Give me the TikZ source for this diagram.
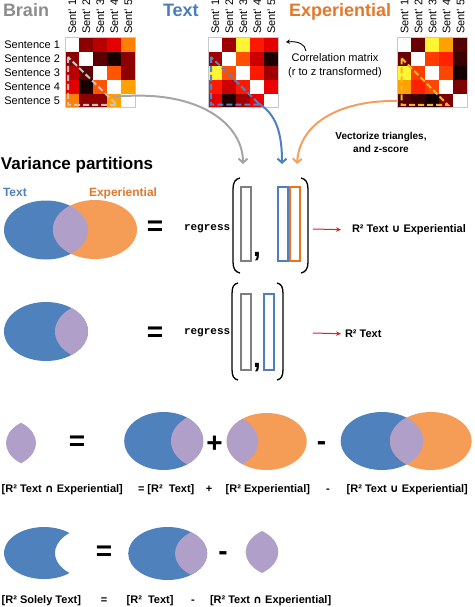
\documentclass[tikz,border=0pt]{standalone}
\usepackage{fontspec}
\setmainfont{Liberation Sans}
\newfontfamily\monof{Liberation Mono}
\newfontfamily\symf{DejaVu Sans}
\usetikzlibrary{arrows.meta}
\definecolor{cblue}{HTML}{4F81BD}
\definecolor{corange}{HTML}{F59D56}
\definecolor{cpurple}{HTML}{B09FC8}
\definecolor{tgray}{HTML}{8C8C8C}
\definecolor{tblue}{HTML}{4A7EBB}
\definecolor{torange}{HTML}{E3782B}
\definecolor{agray}{HTML}{A6A6A6}
\definecolor{ablue}{HTML}{4F81BD}
\definecolor{aorange}{HTML}{F0A060}
\definecolor{dgray}{HTML}{C4C4C4}
\definecolor{dblue}{HTML}{5B80C4}
\definecolor{dyellow}{HTML}{F5B52A}
\definecolor{vgray}{HTML}{7F7F7F}
\definecolor{vblue}{HTML}{4F7CC4}
\definecolor{vorange}{HTML}{E8761E}
\definecolor{mline}{HTML}{C8C8C8}
\definecolor{rline}{HTML}{E81C1C}
\newcommand\fs[1]{\fontsize{#1}{#1}\selectfont}
\newcommand\hotmatrix[3]{%
  \begin{scope}[shift={(#1,#2)}]
    \fill[white] (0,0) rectangle (70,70);
    \foreach \rr/\cc/\kk in {#3} {
      \fill[\kk] ({(\cc-1)*14},{(\rr-1)*14}) rectangle ++(14,14);
      \fill[\kk] ({(\rr-1)*14},{(\cc-1)*14}) rectangle ++(14,14);
    }
    \draw[mline, line width=0.7pt] (0,0) rectangle (70,70);
  \end{scope}}
\begin{document}
\begin{tikzpicture}[x=1pt,y=-1pt,
  every node/.style={inner sep=0pt, outer sep=0pt},
  ttl/.style={font=\fs{18}\bfseries, anchor=base west},
  lab/.style={font=\fs{11}\bfseries, anchor=base west},
  op/.style={font=\fs{28}\bfseries},
  rg/.style={font=\fs{11}\monof\bfseries, anchor=west},
  paren/.style={line width=1.3pt, black},
  vec/.style={line width=2pt},
  flow/.style={line width=2pt, -{Straight Barb[length=4pt,width=9pt]}},
  tri/.style={line width=2pt, dash pattern=on 6pt off 3pt},
  redarr/.style={rline, line width=1pt, -{Stealth[length=5pt,width=4.5pt]}},
  e1/.style={x radius=42, y radius=29.5},
  e3/.style={x radius=40, y radius=28.5},
  e4/.style={x radius=39.5, y radius=26.5},
  el/.style={x radius=40, y radius=26}
]
\useasboundingbox (0,0) rectangle (474,607);

% titles
\node[ttl, text=tgray] (tbrain) at (3,17) {Brain};
\node[ttl, text=tblue] (ttext) at (163,17) {Text};
\node[ttl, text=torange] (texp) at (289,17) {Experiential};

% matrices
\hotmatrix{65}{37.7}{1/2/red!55!black, 1/3/red!72!black, 1/4/red!90!black, 1/5/red!50!yellow, 2/3/red!35!black, 2/4/red!10!black, 2/5/red!56!black, 3/4/red!67!yellow, 3/5/red!56!black, 4/5/red!37!yellow}
\hotmatrix{208}{37.7}{1/2/red!63!black, 1/3/yellow!80!white, 1/4/red!90!yellow, 1/5/red!90!black, 2/3/red!69!yellow, 2/4/red!80!black, 2/5/red!12!black, 3/4/red!90!yellow, 3/5/red!63!black, 4/5/red!93!black}
\hotmatrix{397.3}{37.7}{1/2/red!42!black, 1/3/yellow!80!white, 1/4/red!37!yellow, 1/5/red!32!black, 2/3/red!77!yellow, 2/4/red!87!yellow, 2/5/red!23!black, 3/4/red!73!yellow, 3/5/red!8!black, 4/5/red!50!black}

\foreach \x/\nm in {65/b,208/t,397.3/e} {
  \foreach \c in {1,...,5} {
    \node[font=\fs{11}, rotate=90, anchor=base west] (s\nm\c) at ({\x+(\c-1)*14+11},34) {Sent' \c};
  }
}
\foreach \r in {1,...,5} {
  \node[font=\fs{11}, anchor=base east] (row\r) at (60,{48.7+(\r-1)*14}) {Sentence \r};
}

% dashed triangles
\draw[tri, dgray] (68,57) -- (68,105) -- (117,105) -- cycle;
\draw[tri, dblue] (211,57) -- (211,104.7) -- (260,104.7) -- cycle;
\draw[tri, dyellow] (401.7,58.3) -- (401.7,105) -- (448,105) -- cycle;

% correlation note
\node[font=\fs{11}, anchor=base] (corr1) at (335,62) {Correlation matrix};
\node[font=\fs{11}, anchor=base] (corr2) at (335,76) {(r to z transformed)};
\coordinate (cs) at (306,51);
\coordinate (ce) at (286,42);
\draw[line width=0.9pt, -{Stealth[length=4pt,width=4.5pt]}] (cs) .. controls (305,44) and (298,41) .. (ce);

% flow arrows
\coordinate (gs) at (113,97); \coordinate (ge) at (243,164);
\draw[flow, agray] (gs) .. controls (200,88) and (243,125) .. (ge);
\coordinate (bs) at (258,103); \coordinate (be) at (282,164);
\draw[flow, ablue] (bs) .. controls (272,112) and (282,125) .. (be);
\coordinate (os) at (397,101); \coordinate (oe) at (297,164);
\draw[flow, aorange] (os) .. controls (345,100) and (300,120) .. (oe);

\node[font=\fs{10}\bfseries, anchor=base] (vec1) at (381,139.5) {Vectorize triangles,};
\node[font=\fs{10}\bfseries, anchor=base] (vec2) at (381,152) {and z-score};

% section title
\node[font=\fs{17}\bfseries, anchor=base west] (vp) at (1,169) {Variance partitions};
\node[font=\fs{12}\bfseries, anchor=base west, text=cblue] (vt) at (3,196) {Text};
\node[font=\fs{12}\bfseries, anchor=base west, text=torange] (ve) at (89,196) {Experiential};

% Row 1 venn
\fill[cblue] (46,230) ellipse[e1];
\fill[corange] (95,229.5) ellipse[e1];
\begin{scope}
  \clip (46,230) ellipse[e1];
  \fill[cpurple] (95,229.5) ellipse[e1];
\end{scope}
% Row 2 venn
\fill[cblue] (46,331.5) ellipse[e1];
\begin{scope}
  \clip (46,331.5) ellipse[e1];
  \fill[cpurple] (97,331.5) ellipse[e1];
\end{scope}

% regress rows
\node[op] (eq1) at (155,228.5) {=};
\node[op] (eq2) at (155,334) {=};
\node[rg] (rg1) at (184,229) {regress};
\node[rg] (rg2) at (184,333) {regress};

\draw[paren] (240,178) .. controls (235.5,179) and (233,182) .. (233,189) -- (233,262) .. controls (233,269) and (235.5,272) .. (240,273);
\draw[paren] (301,178) .. controls (305.5,179) and (308,182) .. (308,189) -- (308,262) .. controls (308,269) and (305.5,272) .. (301,273);
\draw[paren] (238,283) .. controls (233.5,284) and (232,287) .. (232,294) -- (232,369) .. controls (232,376) and (233.5,379) .. (238,380);
\draw[paren] (277,283) .. controls (281.5,284) and (283,287) .. (283,294) -- (283,369) .. controls (283,376) and (281.5,379) .. (277,380);

\draw[vec, vgray] (241,187) rectangle (251,261);
\draw[vec, vblue] (278,187) rectangle (288,261);
\draw[vec, vorange] (290,187) rectangle (300,261);
\draw[vec, vgray] (241,294) rectangle (251,370);
\draw[vec, vblue] (264,294) rectangle (274,370);
\node[op, anchor=base] (cm1) at (257,256) {,};
\node[op, anchor=base] (cm2) at (257,367) {,};

\node[lab] (r1) at (352,232.5) {R² Text {\symf ∪} Experiential};
\node[lab] (r2) at (345,337.5) {R² Text};
\coordinate (ra1) at (313,229);
\coordinate (ra2) at (313,333);
\draw[redarr] (ra1) -- ([xshift=-11pt]r1.west);
\draw[redarr] (ra2) -- ([xshift=-4pt]r2.west);

% Row 3
\begin{scope}
  \clip (-4,443) ellipse[el];
  \fill[cpurple] (46,443) ellipse[el];
\end{scope}
\node[op] (eq3) at (77,443) {=};
\fill[cblue] (163.7,441) ellipse[x radius=39.5, y radius=29];
\begin{scope}
  \clip (163.7,441) ellipse[x radius=39.5, y radius=29];
  \fill[cpurple] (210.5,441) ellipse[x radius=39.5, y radius=29];
\end{scope}
\node[op] (pl3) at (214.5,444.5) {+};
\fill[corange] (266.7,441.5) ellipse[e3];
\begin{scope}
  \clip (266.7,441.5) ellipse[e3];
  \fill[cpurple] (218.3,441.5) ellipse[e3];
\end{scope}
\node[op] (mi3) at (321.5,446.5) {-};
\fill[cblue] (382,441) ellipse[x radius=41.3, y radius=29];
\fill[corange] (430.8,441) ellipse[x radius=40.8, y radius=29];
\begin{scope}
  \clip (382,441) ellipse[x radius=41.3, y radius=29];
  \fill[cpurple] (430.8,441) ellipse[x radius=40.8, y radius=29];
\end{scope}

\node[lab] (l31) at (1.7,492) {[R² Text {\symf ∩} Experiential]};
\node[lab] (l32) at (138,492) {= [R²\ \ Text]};
\node[lab, anchor=base] (l33) at (209,492) {+};
\node[lab] (l34) at (225.7,492) {[R² Experiential]};
\node[lab, anchor=base] (l35) at (328,492) {-};
\node[lab] (l36) at (346.7,492) {[R² Text {\symf ∪} Experiential]};

% Row 4: crescent (blue minus ellipse)
\fill[cblue] (69.5,533) arc[start angle=-50.4, end angle=-309.6, x radius=40, y radius=26]
  arc[start angle=129.6, end angle=230.4, x radius=40, y radius=26] -- cycle;
\node[op] (eq4) at (104,553.5) {=};
\fill[cblue] (167.7,553.5) ellipse[e4];
\begin{scope}
  \clip (167.7,553.5) ellipse[e4];
  \fill[cpurple] (214.5,553.5) ellipse[e4];
\end{scope}
\node[op] (mi4) at (223,556) {-};
\begin{scope}
  \clip (238.3,552) ellipse[el];
  \fill[cpurple] (285.7,552) ellipse[el];
\end{scope}

\node[lab] (l41) at (1.7,603) {[R² Solely Text]};
\node[lab, anchor=base] (l42) at (104,603) {=};
\node[lab] (l43) at (126.7,603) {[R²\ \ Text]};
\node[lab, anchor=base] (l44) at (193,603) {-};
\node[lab] (l45) at (210,603) {[R² Text {\symf ∩} Experiential]};
\end{tikzpicture}
\end{document}
